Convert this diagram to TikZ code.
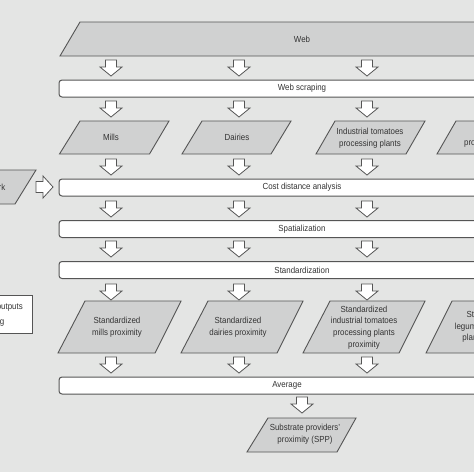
\documentclass[tikz,border=0pt]{standalone}
\usepackage{fontspec}
\setmainfont{Liberation Sans}[FakeStretch=0.9]
\definecolor{bg}{HTML}{E4E5E4}
\definecolor{parafill}{HTML}{D0D1D1}
\definecolor{edge}{HTML}{555555}
\definecolor{txt}{HTML}{333333}
\tikzset{
  lbl/.style={font=\fontsize{8.8}{11.7}\selectfont, text=txt, align=center, inner sep=0pt},
  para/.style={draw=edge, fill=parafill, line width=0.9pt, line join=miter},
  procbox/.style={draw=edge, fill=white, line width=1pt, rounded corners=3pt, minimum width=486pt, minimum height=17pt, inner sep=0pt},
  barrow/.style={draw=edge, fill=white, line width=0.8pt, line join=miter},
  dnarrow/.pic={\draw[barrow] (-5.5,0) -- (5.5,0) -- (5.5,7) -- (11,7) -- (0,16) -- (-11,7) -- (-5.5,7) -- cycle;}
}
\begin{document}
\begin{tikzpicture}[x=1pt,y=-1pt]
\useasboundingbox (0,0) rectangle (474,474);
\clip (0,0) rectangle (474,474);
\fill[bg] (0,0) rectangle (474,474);
\fill[white] (0,471.5) rectangle (474,474);

% Web
\draw[para] (60,56) -- (80,22) -- (560,22) -- (540,56) -- cycle;
\node[lbl] (web) at (302,39) {Web};

% process boxes
\node[procbox, lbl] (scrape) at (302,88.5) {Web scraping};
\node[procbox, lbl] (cost) at (302,187.5) {Cost distance analysis};
\node[procbox, lbl] (spat) at (302,229) {Spatialization};
\node[procbox, lbl] (stand) at (302,270) {Standardization};
\node[procbox] (avg) at (302,385.5) {};
\node[lbl] (avgtxt) at (287,385.5) {Average};

% top row of sources
\draw[para] (59.5,154) -- (80,121) -- (169,121) -- (149.5,154) -- cycle;
\node[lbl] (mills) at (111,137.5) {Mills};
\draw[para] (182,154) -- (202,121) -- (291,121) -- (271,154) -- cycle;
\node[lbl] (dairies) at (237,137.5) {Dairies};
\draw[para] (316,154) -- (335,121) -- (425,121) -- (406,154) -- cycle;
\node[lbl] (tomato) at (370,138) {Industrial tomatoes\\processing plants};
\draw[para] (437,154) -- (456,121) -- (560,121) -- (540,154) -- cycle;
\node[lbl] (legume) at (495,138) {Legumes\\processing plants};

% road network input
\draw[para] (-50,204) -- (-30,170) -- (36,170) -- (15,204) -- cycle;
\node[lbl, anchor=east] (road) at (5.5,187) {Road network};
\draw[barrow] (36,181.5) -- (43,181.5) -- (43,176) -- (53,187) -- (43,198) -- (43,192.5) -- (36,192.5) -- cycle;

% legend
\draw[fill=white, draw=edge, line width=0.8pt] (-20,295) rectangle (32,333);
\node[lbl, anchor=east] (leg1) at (23,307) {Inputs/outputs};
\node[lbl, anchor=east] (leg2) at (4.5,322) {Processing};

% standardized row
\draw[para] (58,353) -- (85,301) -- (181,301) -- (155,353) -- cycle;
\node[lbl] (smills) at (117,327) {Standardized\\mills proximity};
\draw[para] (181,353) -- (208,301) -- (303,301) -- (277,353) -- cycle;
\node[lbl] (sdairies) at (238,327) {Standardized\\dairies proximity};
\draw[para] (303,353) -- (330,301) -- (425,301) -- (399,353) -- cycle;
\node[lbl] (stomato) at (364,327.5) {Standardized\\industrial tomatoes\\processing plants\\proximity};
\draw[para] (426,353) -- (452,301) -- (560,301) -- (540,353) -- cycle;
\node[lbl] (slegume) at (490,327) {Standardized\\legumes processing\\plants proximity};

% SPP
\draw[para] (247,452) -- (268,418) -- (356,418) -- (337,452) -- cycle;
\node[lbl] (spp) at (305,434) {Substrate providers'\\proximity (SPP)};

% block arrows
\foreach \yy in {60,101,159,201,241,284,357}{
  \foreach \xx in {111,239,367}{
    \pic at (\xx,\yy) {dnarrow};
  }
}
\pic at (302,397) {dnarrow};
\end{tikzpicture}
\end{document}
